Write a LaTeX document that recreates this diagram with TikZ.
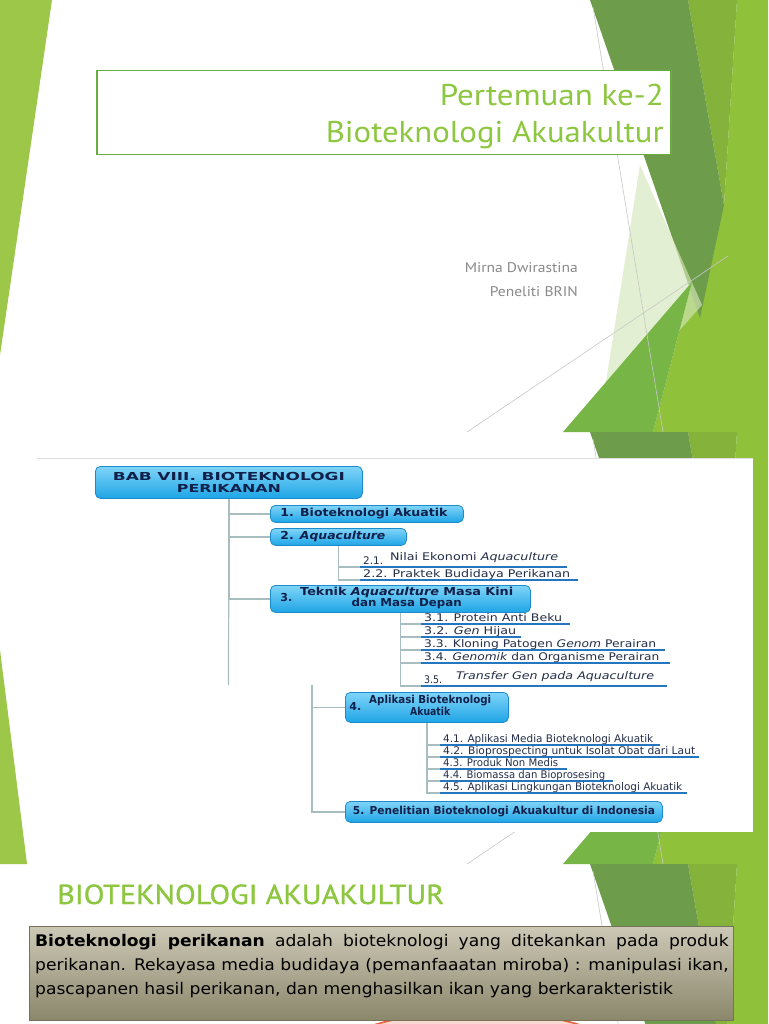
\documentclass[tikz,border=0pt]{standalone}
\usepackage{fontspec}
\usepackage{graphicx}
\setmainfont{DejaVu Sans}
\newfontfamily\ptsans{PT Sans}
\newfontfamily\ptsanshead[FakeBold=1]{PT Sans}
\newcommand\fitw[2]{\resizebox{#1}{\height}{#2}}
\definecolor{lime}{RGB}{141,198,63}
\definecolor{tbord}{RGB}{104,172,64}
\definecolor{leftband}{RGB}{156,199,72}
\definecolor{dlime}{RGB}{143,193,58}
\definecolor{dmed}{RGB}{132,178,58}
\definecolor{ddark}{RGB}{109,156,74}
\definecolor{dlight}{RGB}{212,231,186}
\definecolor{dbig}{RGB}{119,181,71}
\definecolor{gline}{RGB}{200,200,200}
\definecolor{authc}{RGB}{138,138,138}
\definecolor{boxtop}{RGB}{128,212,248}
\definecolor{boxbot}{RGB}{30,165,230}
\definecolor{boxbord}{RGB}{28,139,203}
\definecolor{boxtext}{RGB}{16,32,74}
\definecolor{itemc}{RGB}{36,46,72}
\definecolor{connc}{RGB}{168,189,192}
\definecolor{ulc}{RGB}{36,118,191}
\definecolor{tbtop}{RGB}{204,200,182}
\definecolor{tbbot}{RGB}{139,135,107}
\definecolor{tbline}{RGB}{119,115,90}
\definecolor{ovfill}{RGB}{250,218,208}
\definecolor{ovline}{RGB}{233,96,58}
\newcommand\rdecor{%
  \fill[dlime] (737,0) -- (768,0) -- (768,432) -- (653,432) -- (692,282) -- (724,205) -- cycle;
  \fill[dmed] (688,0) -- (737,0) -- (724,205) -- cycle;
  \fill[ddark] (590,0) -- (688,0) -- (724,205) -- (700,318) -- cycle;
  \fill[dlight, opacity=0.65] (640,165) -- (702,305) -- (600,420) -- cycle;
  \fill[dbig] (563,432) -- (692,282) -- (653,432) -- cycle;
  \draw[gline, line width=0.6pt] (593,7) -- (663,432);
  \draw[gline, line width=0.6pt] (467,432) -- (728,256);
}
\begin{document}
\begin{tikzpicture}[x=1pt,y=-1pt,
  mmbox/.style={draw=boxbord, line width=0.8pt, rounded corners=5pt, top color=boxtop, bottom color=boxbot,
    anchor=north west, inner ysep=0pt, text=boxtext, font=\fontsize{11}{11.5}\selectfont\bfseries},
  item/.style={anchor=south west, inner xsep=3pt, inner ysep=0.5pt, text depth=2pt, text=itemc,
    font=\fontsize{10.5}{11}\selectfont},
  conn/.style={draw=connc, line width=1.2pt},
  uline/.style={draw=ulc, line width=1.3pt},
  ttl/.style={anchor=base east, inner sep=0pt, text=lime, font=\ptsans\fontsize{30}{30}\selectfont},
  auth/.style={anchor=base east, inner sep=0pt, text=authc, font=\ptsans\fontsize{14}{14}\selectfont}]
\useasboundingbox (0,0) rectangle (768,1024);
\begin{scope}
\clip (0,0) rectangle (768,1024);
\fill[white] (0,0) rectangle (768,1024);
% slide 1 decoration
\begin{scope}
  \clip (0,0) rectangle (768,432);
  \rdecor
  \fill[leftband] (0,0) -- (52,0) -- (0,355) -- cycle;
\end{scope}
% slide 2 decoration
\begin{scope}[shift={(0,432)}]
  \clip (0,0) rectangle (768,432);
  \rdecor
  \fill[leftband] (0,218) -- (27,432) -- (0,432) -- cycle;
\end{scope}
% slide 3 decoration
\begin{scope}[shift={(0,864)}]
  \clip (0,0) rectangle (768,160);
  \rdecor
\end{scope}

% ---------- slide 1 ----------
\node[draw=tbord, line width=1.5pt, fill=white, minimum width=574pt, minimum height=84pt,
  anchor=north west, inner sep=0pt] (tbox) at (96,70) {};
\node[ttl] (title1) at (664,106) {\fitw{224pt}{Pertemuan ke-2}};
\node[ttl] (title2) at (664,143) {\fitw{338pt}{Bioteknologi Akuakultur}};
\node[auth] (auth1) at (578,272) {\fitw{113pt}{Mirna Dwirastina}};
\node[auth] (auth2) at (578,296) {\fitw{88pt}{Peneliti BRIN}};

% ---------- slide 2 : mind map picture ----------
\fill[white] (37,458) rectangle (753,832);
\draw[gray!25, line width=0.6pt] (37,458) -- (753,458);

\node[mmbox, minimum width=267pt, minimum height=32pt, text width=255pt, inner xsep=6pt, align=center] (root) at (95,466)
  {\fitw{232pt}{BAB VIII. BIOTEKNOLOGI}\\\fitw{104pt}{PERIKANAN}};
\node[mmbox, minimum width=193pt, minimum height=17pt, text width=173pt, inner xsep=10pt, align=left] (b1) at (270,505)
  {\fitw{167pt}{1. Bioteknologi Akuatik}};
\node[mmbox, minimum width=136pt, minimum height=17pt, text width=116pt, inner xsep=10pt, align=left] (b2) at (270,528)
  {\fitw{105pt}{2. \textit{Aquaculture}}};
\node[mmbox, minimum width=260pt, minimum height=27pt, text width=240pt, inner xsep=10pt, align=left] (b3) at (270,585)
  {3.\hspace{8pt}\begin{tabular}[c]{@{}c@{}}\fitw{213pt}{Teknik \textit{Aquaculture} Masa Kini}\\[-1pt]\fitw{110pt}{dan Masa Depan}\end{tabular}};
\node[mmbox, minimum width=163pt, minimum height=30pt, text width=155pt, inner xsep=4pt, align=left] (b4) at (345,692)
  {4.\hspace{8pt}\begin{tabular}[c]{@{}c@{}}\fitw{122pt}{Aplikasi Bioteknologi}\\[0pt]\fitw{40pt}{Akuatik}\end{tabular}};
\node[mmbox, minimum width=317pt, minimum height=21pt, text width=303pt, inner xsep=7pt, align=center] (b5) at (345,801)
  {\fitw{302pt}{5. Penelitian Bioteknologi Akuakultur di Indonesia}};

\coordinate (t1) at (228.5,685);
\coordinate (t2) at (312,685);
\draw[conn] (root.south) -- (t1);
\foreach \b in {b1,b2,b3} \draw[conn] (root.south) |- (\b.west);
\foreach \b in {b4,b5} \draw[conn] (t2) |- (\b.west);

% items of 2
\node[item] (i21) at (360,567)
  {\makebox[201pt][l]{\fitw{20pt}{2.1.}\hspace{7pt}\raisebox{4pt}{\fitw{168pt}{Nilai Ekonomi \textit{Aquaculture}}}}};
\node[item] (i22) at (360,580) {\makebox[212pt][l]{\fitw{207pt}{2.2. Praktek Budidaya Perikanan}}};
% items of 3
\node[item] (i31) at (421,624) {\makebox[143pt][l]{\fitw{138pt}{3.1. Protein Anti Beku}}};
\node[item] (i32) at (421,637) {\makebox[94pt][l]{\fitw{92pt}{3.2. \textit{Gen} Hijau}}};
\node[item] (i33) at (421,650) {\makebox[238pt][l]{\fitw{232pt}{3.3. Kloning Patogen \textit{Genom} Perairan}}};
\node[item] (i34) at (421,663) {\makebox[243pt][l]{\fitw{235pt}{3.4. \textit{Genomik} dan Organisme Perairan}}};
\node[item] (i35) at (421,686)
  {\makebox[240pt][l]{\fitw{18pt}{3.5.}\hspace{14pt}\raisebox{4pt}{\fitw{198pt}{\textit{Transfer Gen pada Aquaculture}}}}};
% items of 4
\node[item] (i41) at (440,745) {\makebox[214pt][l]{\fitw{210pt}{4.1. Aplikasi Media Bioteknologi Akuatik}}};
\node[item] (i42) at (440,757) {\makebox[253pt][l]{\fitw{252pt}{4.2. Bioprospecting untuk Isolat Obat dari Laut}}};
\node[item] (i43) at (440,769) {\makebox[121pt][l]{\fitw{115pt}{4.3. Produk Non Medis}}};
\node[item] (i44) at (440,781) {\makebox[167pt][l]{\fitw{162pt}{4.4. Biomassa dan Bioprosesing}}};
\node[item] (i45) at (440,793) {\makebox[241pt][l]{\fitw{239pt}{4.5. Aplikasi Lingkungan Bioteknologi Akuatik}}};

\foreach \i in {i21,i22} \draw[conn] (b2.south) |- (\i.south west);
\foreach \i in {i31,i32,i33,i34,i35} \draw[conn] (b3.south) |- (\i.south west);
\foreach \i in {i41,i42,i43,i44,i45} \draw[conn] (b4.south) |- (\i.south west);
\foreach \i in {i21,i22,i31,i32,i33,i34,i35,i41,i42,i43,i44,i45} \draw[uline] (\i.south west) -- (\i.south east);

% ---------- slide 3 ----------
\node[anchor=base west, inner sep=0pt, text=lime, font=\ptsanshead\fontsize{27.5}{27.5}\selectfont] (head) at (57,904)
  {\fitw{387pt}{BIOTEKNOLOGI AKUAKULTUR}};
\filldraw[fill=ovfill, draw=ovline, line width=1.6pt] (477,1052) ellipse [x radius=140, y radius=40];
\node[draw=tbline, line width=0.6pt, top color=tbtop, bottom color=tbbot, minimum width=704pt, minimum height=94pt,
  anchor=north west, inner sep=0pt] (tb) at (29,926) {};
\node[anchor=north west, inner sep=0pt, align=left, font=\fontsize{16}{24}\selectfont, text=black] (txt) at (35,934)
  {\scalebox{1.07}[1]{\makebox[648pt][s]{\textbf{Bioteknologi perikanan} adalah bioteknologi yang ditekankan pada produk}}\\
   \scalebox{1.07}[1]{\makebox[648pt][s]{perikanan. Rekayasa media budidaya (pemanfaaatan miroba) : manipulasi ikan,}}\\
   \scalebox{1.07}[1]{pascapanen hasil perikanan, dan menghasilkan ikan yang berkarakteristik}};
\end{scope}
\end{tikzpicture}
\end{document}
